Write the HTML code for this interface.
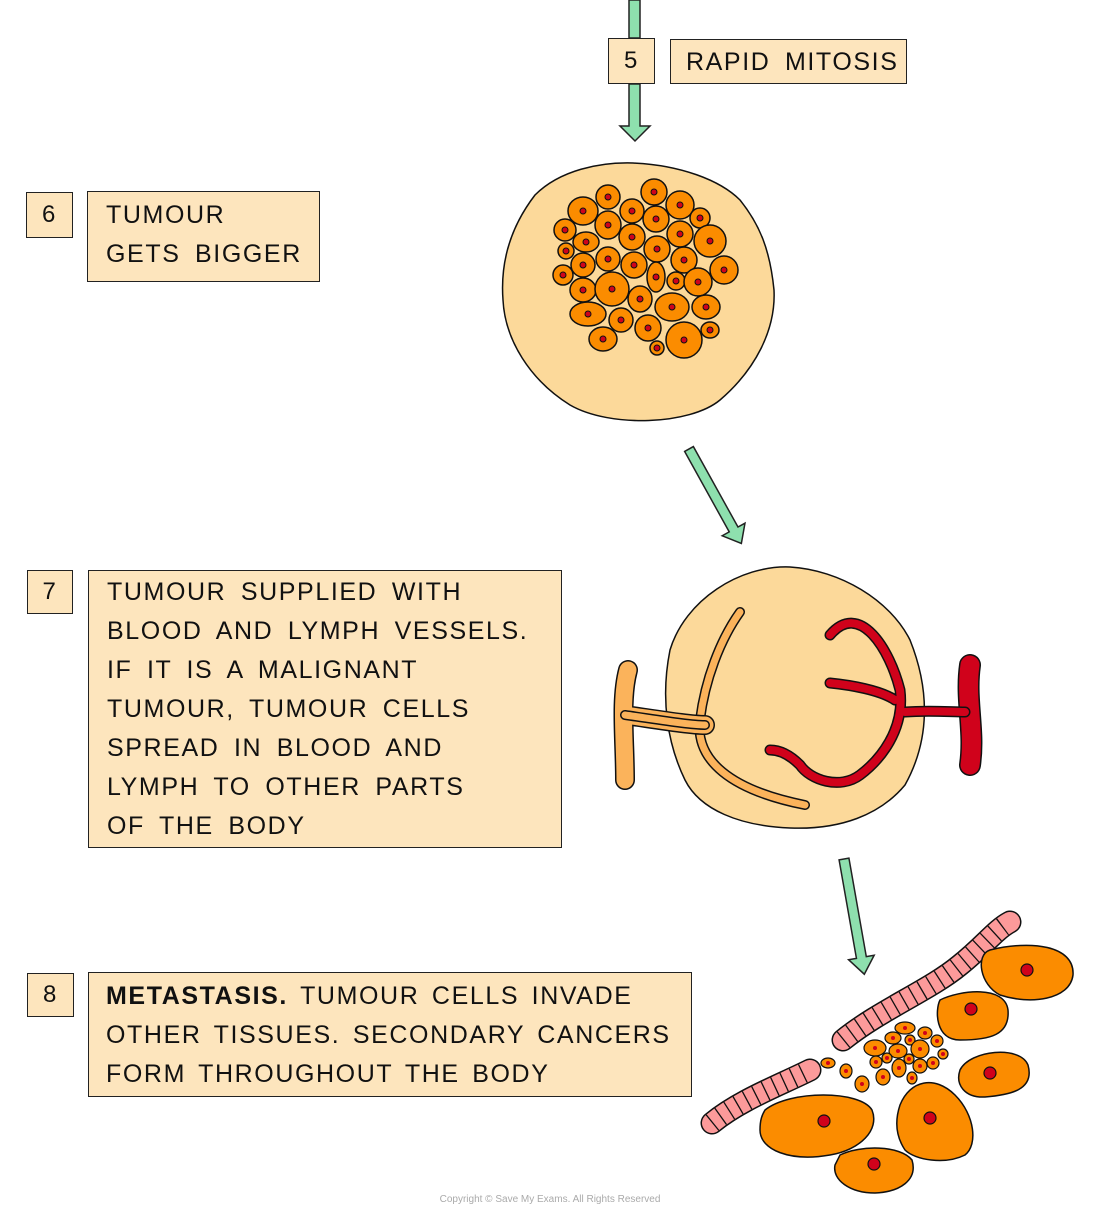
<!DOCTYPE html>
<html><head><meta charset="utf-8"><style>
body{margin:0;background:#fff;width:1100px;height:1211px;position:relative;overflow:hidden;font-family:"Liberation Sans",sans-serif}
.b{position:absolute;background:#fde5bd;border:1.5px solid #222;box-sizing:border-box;color:#111;font-size:25px;letter-spacing:1.6px;word-spacing:6px;line-height:39px}
.n{text-align:center;font-size:24px}
</style></head><body>
<svg width="1100" height="1211" style="position:absolute;left:0;top:0">
<defs>
<g id="ar"><path d="M-5,0 L5,0 L5,-0 L5,40 L13,40 L0,55 L-13,40 L-5,40Z" fill="#8ee0ae" stroke="#222" stroke-width="1.5"/></g>
</defs>
<rect x="629" y="0" width="11" height="38" fill="#8ee0ae" stroke="#222" stroke-width="1.5"/>
<path d="M629,84 L640,84 L640,126 L650,126 L635,141 L620,126 L629,126Z" fill="#8ee0ae" stroke="#222" stroke-width="1.5"/>
<g transform="translate(689,449) rotate(-29)"><path d="M-5,0 L5,0 L5,92 L13,92 L0,108 L-13,92 L-5,92Z" fill="#8ee0ae" stroke="#222" stroke-width="1.5"/></g>
<g transform="translate(844,859) rotate(-10)"><path d="M-5,0 L5,0 L5,100 L13,100 L0,117 L-13,100 L-5,100Z" fill="#8ee0ae" stroke="#222" stroke-width="1.5"/></g>
<!-- tumour 1 -->
<path d="M633,163 C680,165 720,180 740,200 C760,225 770,250 774,290 C776,330 755,370 720,400 C690,425 610,428 570,405 C530,380 505,340 503,300 C500,260 512,225 535,195 C560,170 600,162 633,163Z" fill="#fcd99a" stroke="#111" stroke-width="1.5"/>
<g fill="#fb8c00" stroke="#111" stroke-width="1.5">
<ellipse cx="583" cy="211" rx="15" ry="14"/><ellipse cx="608" cy="197" rx="12" ry="12"/><ellipse cx="632" cy="211" rx="12" ry="12"/><ellipse cx="654" cy="192" rx="13" ry="13"/><ellipse cx="680" cy="205" rx="14" ry="14"/><ellipse cx="700" cy="218" rx="10" ry="10"/>
<ellipse cx="565" cy="230" rx="11" ry="11"/><ellipse cx="608" cy="225" rx="13" ry="14"/><ellipse cx="632" cy="237" rx="13" ry="13"/><ellipse cx="656" cy="219" rx="13" ry="13"/><ellipse cx="680" cy="234" rx="13" ry="13"/><ellipse cx="710" cy="241" rx="16" ry="16"/>
<ellipse cx="566" cy="251" rx="8" ry="8"/><ellipse cx="586" cy="242" rx="13" ry="10"/><ellipse cx="583" cy="265" rx="12" ry="12"/><ellipse cx="608" cy="259" rx="12" ry="12"/><ellipse cx="634" cy="265" rx="13" ry="13"/><ellipse cx="657" cy="249" rx="13" ry="13"/><ellipse cx="684" cy="260" rx="13" ry="13"/><ellipse cx="724" cy="270" rx="14" ry="14"/>
<ellipse cx="563" cy="275" rx="10" ry="10"/><ellipse cx="583" cy="290" rx="13" ry="12"/><ellipse cx="612" cy="289" rx="17" ry="17"/><ellipse cx="640" cy="299" rx="12" ry="13"/><ellipse cx="656" cy="277" rx="9" ry="15"/><ellipse cx="676" cy="281" rx="9" ry="9"/><ellipse cx="698" cy="282" rx="14" ry="14"/>
<ellipse cx="588" cy="314" rx="18" ry="12"/><ellipse cx="621" cy="320" rx="12" ry="12"/><ellipse cx="648" cy="328" rx="13" ry="13"/><ellipse cx="672" cy="307" rx="17" ry="14"/><ellipse cx="706" cy="307" rx="14" ry="12"/>
<ellipse cx="603" cy="339" rx="14" ry="12"/><ellipse cx="657" cy="348" rx="7" ry="7"/><ellipse cx="684" cy="340" rx="18" ry="18"/><ellipse cx="710" cy="330" rx="9" ry="8"/>
</g>
<g fill="#d0021b" stroke="#111" stroke-width="1">
<circle cx="583" cy="211" r="3"/><circle cx="608" cy="197" r="3"/><circle cx="632" cy="211" r="3"/><circle cx="654" cy="192" r="3"/><circle cx="680" cy="205" r="3"/><circle cx="700" cy="218" r="3"/><circle cx="565" cy="230" r="3"/><circle cx="608" cy="225" r="3"/><circle cx="632" cy="237" r="3"/><circle cx="656" cy="219" r="3"/><circle cx="680" cy="234" r="3"/><circle cx="710" cy="241" r="3"/><circle cx="566" cy="251" r="3"/><circle cx="586" cy="242" r="3"/><circle cx="583" cy="265" r="3"/><circle cx="608" cy="259" r="3"/><circle cx="634" cy="265" r="3"/><circle cx="657" cy="249" r="3"/><circle cx="684" cy="260" r="3"/><circle cx="724" cy="270" r="3"/><circle cx="563" cy="275" r="3"/><circle cx="583" cy="290" r="3"/><circle cx="612" cy="289" r="3"/><circle cx="640" cy="299" r="3"/><circle cx="656" cy="277" r="3"/><circle cx="676" cy="281" r="3"/><circle cx="698" cy="282" r="3"/><circle cx="588" cy="314" r="3"/><circle cx="621" cy="320" r="3"/><circle cx="648" cy="328" r="3"/><circle cx="672" cy="307" r="3"/><circle cx="706" cy="307" r="3"/><circle cx="603" cy="339" r="3"/><circle cx="657" cy="348" r="3"/><circle cx="684" cy="340" r="3"/><circle cx="710" cy="330" r="3"/>
</g>
<!-- tumour 2 -->
<path d="M790,567 C840,570 890,600 910,640 C930,690 930,740 905,785 C880,815 840,830 790,828 C740,826 700,810 685,780 C668,745 660,700 670,650 C685,600 740,565 790,567Z" fill="#fcd99a" stroke="#111" stroke-width="1.5"/>
<g fill="none" stroke-linecap="round" stroke-linejoin="round">
<path d="M740,612 C720,640 705,680 700,720 C695,760 730,790 805,805" stroke="#111" stroke-width="10"/>
<path d="M740,612 C720,640 705,680 700,720 C695,760 730,790 805,805" stroke="#fbb35b" stroke-width="7"/>
<path d="M628,670 C620,700 625,740 625,780 M625,715 C660,720 690,725 705,725" stroke="#111" stroke-width="20"/>
<path d="M628,670 C620,700 625,740 625,780 M625,715 C660,720 690,725 705,725" stroke="#fbb35b" stroke-width="17"/>
<path d="M625,715 C660,720 690,725 705,725" stroke="#111" stroke-width="10"/>
<path d="M625,715 C660,720 690,725 705,725" stroke="#fbb35b" stroke-width="7"/>
<path d="M970,665 C965,700 975,730 970,765" stroke="#111" stroke-width="22"/>
<path d="M970,665 C965,700 975,730 970,765" stroke="#d0021b" stroke-width="19"/>
<path d="M830,635 C860,600 890,650 900,690 C905,730 880,760 860,775 C840,790 810,780 800,765 C790,755 780,750 770,750 M895,700 C880,690 850,685 830,683 M905,712 C930,710 950,712 965,712" stroke="#111" stroke-width="11"/>
<path d="M830,635 C860,600 890,650 900,690 C905,730 880,760 860,775 C840,790 810,780 800,765 C790,755 780,750 770,750 M895,700 C880,690 850,685 830,683 M905,712 C930,710 950,712 965,712" stroke="#d0021b" stroke-width="8"/>
</g>
<!-- metastasis -->
<g fill="none" stroke-linecap="round">
<path d="M843,1040 C880,1010 930,990 960,965 C985,945 995,930 1010,922" stroke="#111" stroke-width="23"/>
<path d="M843,1040 C880,1010 930,990 960,965 C985,945 995,930 1010,922" stroke="#fc9a9a" stroke-width="20"/>
<path d="M843,1040 C880,1010 930,990 960,965 C985,945 995,930 1010,922" stroke="#111" stroke-width="20" stroke-dasharray="1.3 9" stroke-linecap="butt"/>
<path d="M712,1123 C740,1100 780,1085 810,1070" stroke="#111" stroke-width="23"/>
<path d="M712,1123 C740,1100 780,1085 810,1070" stroke="#fc9a9a" stroke-width="20"/>
<path d="M712,1123 C740,1100 780,1085 810,1070" stroke="#111" stroke-width="20" stroke-dasharray="1.3 9" stroke-linecap="butt"/>
</g>
<g fill="#fb8c00" stroke="#111" stroke-width="1.5">
<path d="M990,950 C1030,940 1075,945 1073,975 C1070,1000 1030,1005 1000,995 C980,985 975,955 990,950Z"/>
<path d="M940,1000 C960,990 1005,985 1008,1010 C1010,1035 990,1040 960,1040 C935,1040 935,1010 940,1000Z"/>
<path d="M960,1070 C970,1050 1020,1045 1028,1065 C1035,1090 1010,1095 985,1097 C965,1098 955,1085 960,1070Z"/>
<path d="M900,1105 C910,1080 935,1075 955,1095 C975,1115 978,1145 965,1155 C945,1165 915,1160 905,1150 C895,1135 895,1120 900,1105Z"/>
<path d="M765,1110 C790,1090 860,1090 872,1110 C880,1130 860,1150 830,1155 C790,1162 760,1150 760,1130 C760,1120 762,1115 765,1110Z"/>
<path d="M840,1155 C860,1145 900,1145 912,1160 C918,1180 900,1192 875,1193 C850,1193 832,1180 835,1165Z"/>
</g>
<g fill="#d0021b" stroke="#111" stroke-width="1.2">
<circle cx="1027" cy="970" r="6"/><circle cx="971" cy="1009" r="6"/><circle cx="990" cy="1073" r="6"/><circle cx="930" cy="1118" r="6"/><circle cx="824" cy="1121" r="6"/><circle cx="874" cy="1164" r="6"/>
</g>
<g fill="#fb8c00" stroke="#111" stroke-width="1.2">
<ellipse cx="905" cy="1028" rx="10" ry="6"/><ellipse cx="893" cy="1038" rx="8" ry="6"/><ellipse cx="910" cy="1040" rx="5" ry="5"/><ellipse cx="925" cy="1033" rx="7" ry="6"/><ellipse cx="937" cy="1041" rx="6" ry="6"/><ellipse cx="875" cy="1048" rx="11" ry="8"/><ellipse cx="898" cy="1051" rx="9" ry="7"/><ellipse cx="920" cy="1049" rx="9" ry="9"/><ellipse cx="943" cy="1054" rx="5" ry="5"/><ellipse cx="876" cy="1062" rx="6" ry="6"/><ellipse cx="887" cy="1058" rx="5" ry="5"/><ellipse cx="899" cy="1068" rx="7" ry="9"/><ellipse cx="909" cy="1059" rx="5" ry="5"/><ellipse cx="920" cy="1066" rx="7" ry="7"/><ellipse cx="933" cy="1063" rx="6" ry="6"/><ellipse cx="883" cy="1077" rx="7" ry="8"/><ellipse cx="912" cy="1078" rx="5" ry="6"/><ellipse cx="828" cy="1063" rx="7" ry="5"/><ellipse cx="846" cy="1071" rx="6" ry="7"/><ellipse cx="862" cy="1084" rx="7" ry="8"/>
</g>
<g fill="#d0021b">
<circle cx="905" cy="1028" r="2"/><circle cx="893" cy="1038" r="2"/><circle cx="910" cy="1040" r="2"/><circle cx="925" cy="1033" r="2"/><circle cx="937" cy="1041" r="2"/><circle cx="875" cy="1048" r="2"/><circle cx="898" cy="1051" r="2"/><circle cx="920" cy="1049" r="2"/><circle cx="943" cy="1054" r="2"/><circle cx="876" cy="1062" r="2"/><circle cx="887" cy="1058" r="2"/><circle cx="899" cy="1068" r="2"/><circle cx="909" cy="1059" r="2"/><circle cx="920" cy="1066" r="2"/><circle cx="933" cy="1063" r="2"/><circle cx="883" cy="1077" r="2"/><circle cx="912" cy="1078" r="2"/><circle cx="828" cy="1063" r="2"/><circle cx="846" cy="1071" r="2"/><circle cx="862" cy="1084" r="2"/>
</g>
<text x="550" y="1202" font-family="Liberation Sans" font-size="10" fill="#aaa" text-anchor="middle">Copyright © Save My Exams. All Rights Reserved</text>
</svg>
<div class="b n" style="left:608px;top:38px;width:47px;height:46px;line-height:44px">5</div>
<div class="b" style="left:670px;top:39px;width:237px;height:45px;padding-left:15px;line-height:44px">RAPID MITOSIS</div>
<div class="b n" style="left:26px;top:192px;width:47px;height:46px;line-height:44px">6</div>
<div class="b" style="left:87px;top:191px;width:233px;height:91px;padding:4px 0 0 18px">TUMOUR<br>GETS BIGGER</div>
<div class="b n" style="left:27px;top:570px;width:46px;height:44px;line-height:42px">7</div>
<div class="b" style="left:88px;top:570px;width:474px;height:278px;padding:2px 0 0 18px">TUMOUR SUPPLIED WITH<br>BLOOD AND LYMPH VESSELS.<br>IF IT IS A MALIGNANT<br>TUMOUR, TUMOUR CELLS<br>SPREAD IN BLOOD AND<br>LYMPH TO OTHER PARTS<br>OF THE BODY</div>
<div class="b n" style="left:27px;top:973px;width:47px;height:44px;line-height:42px">8</div>
<div class="b" style="left:88px;top:972px;width:604px;height:125px;padding:4px 0 0 17px;word-spacing:4px"><b>METASTASIS.</b> TUMOUR CELLS INVADE<br>OTHER TISSUES. SECONDARY CANCERS<br>FORM THROUGHOUT THE BODY</div>
</body></html>
